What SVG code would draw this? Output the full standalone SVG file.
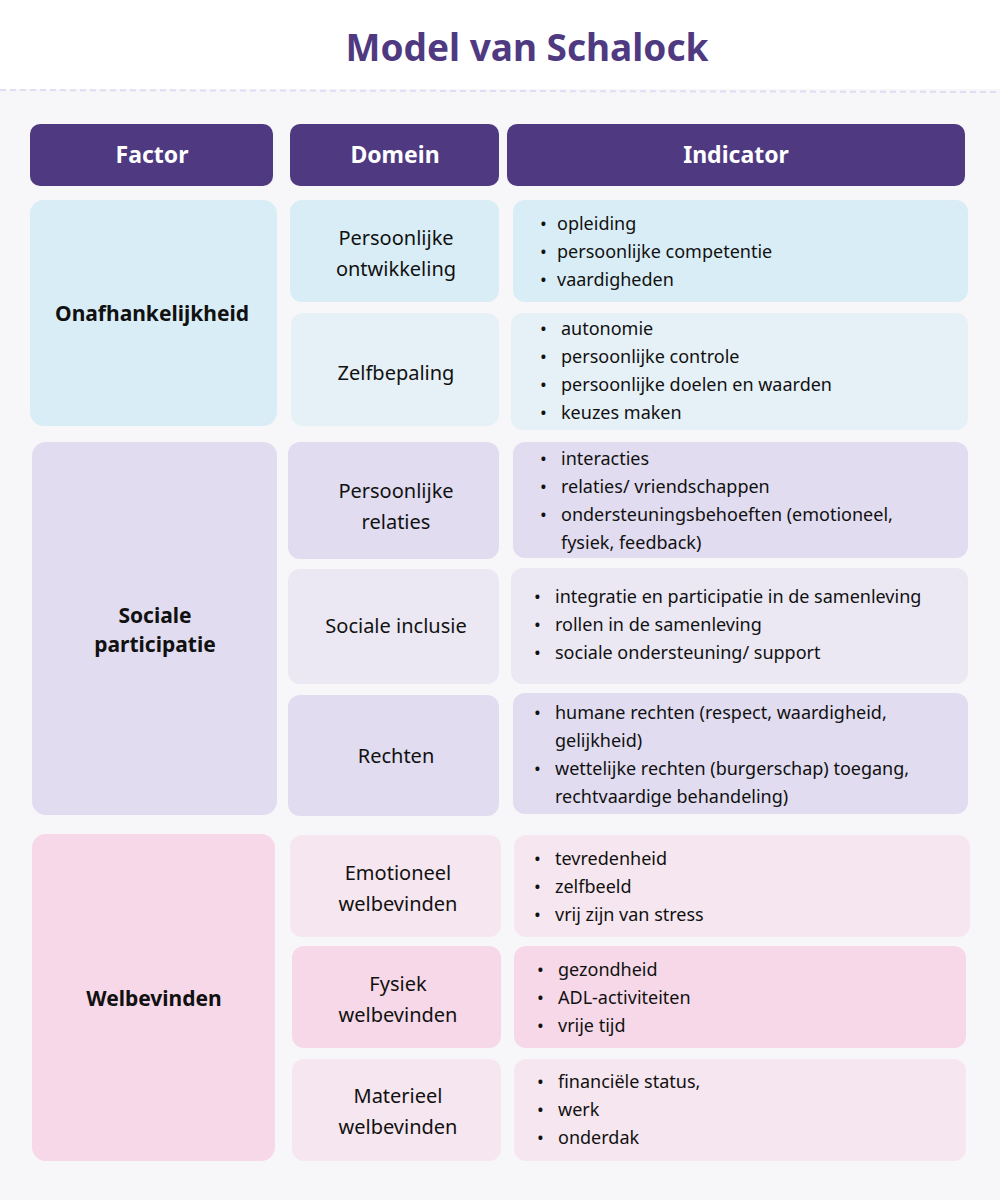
<svg xmlns="http://www.w3.org/2000/svg" width="1000" height="1200" viewBox="0 0 1000 1200">
<style>
text{font-family:"Noto Sans","Open Sans",sans-serif;fill:#111}
.h{fill:#4f3a82}
.ht{fill:#fff;font-size:23px;font-weight:bold;text-anchor:middle}
.f{font-size:21px;font-weight:bold;text-anchor:middle}
.d{font-size:20px;text-anchor:middle}
.i{font-size:18px}
.b1{fill:#d9edf6}.b2{fill:#e6f0f7}
.p1{fill:#e1dcf0}.p2{fill:#ebe8f4}
.k1{fill:#f6d8e8}.k2{fill:#f6e6ef}
</style>
<rect width="1000" height="1200" fill="#f7f6f9"/>
<rect width="1000" height="89" fill="#fff"/>
<line x1="0" y1="90" x2="1000" y2="92" stroke="#e3dcf3" stroke-width="2" stroke-dasharray="6,4"/>
<text x="527" y="61" text-anchor="middle" style="font-size:37px;font-weight:bold;fill:#4f3a82">Model van Schalock</text>
<g id="headers">
<rect class="h" x="30" y="124" width="243" height="62" rx="10"/><text class="ht" x="152" y="163">Factor</text>
<rect class="h" x="290" y="124" width="209" height="62" rx="10"/><text class="ht" x="395" y="163">Domein</text>
<rect class="h" x="507" y="124" width="458" height="62" rx="10"/><text class="ht" x="736" y="163">Indicator</text>
</g>
<g id="f1"><rect class="b1" x="30" y="200" width="247" height="226" rx="14"/><text class="f" x="152" y="321">Onafhankelijkheid</text></g>
<g id="d1"><rect class="b1" x="290" y="200" width="209" height="102" rx="12"/><text class="d" x="396" y="245">Persoonlijke</text><text class="d" x="396" y="276">ontwikkeling</text></g>
<g id="i1"><rect class="b1" x="513" y="200" width="455" height="102" rx="12"/>
<text class="i" x="540" y="230">•</text><text class="i" x="557" y="230">opleiding</text>
<text class="i" x="540" y="258">•</text><text class="i" x="557" y="258">persoonlijke competentie</text>
<text class="i" x="540" y="286">•</text><text class="i" x="557" y="286">vaardigheden</text></g>
<g id="d2"><rect class="b2" x="291" y="313" width="208" height="113" rx="12"/><text class="d" x="396" y="380">Zelfbepaling</text></g>
<g id="i2"><rect class="b2" x="511" y="313" width="457" height="117" rx="12"/>
<text class="i" x="540" y="335">•</text><text class="i" x="561" y="335">autonomie</text>
<text class="i" x="540" y="363">•</text><text class="i" x="561" y="363">persoonlijke controle</text>
<text class="i" x="540" y="391">•</text><text class="i" x="561" y="391">persoonlijke doelen en waarden</text>
<text class="i" x="540" y="419">•</text><text class="i" x="561" y="419">keuzes maken</text></g>
<g id="f2"><rect class="p1" x="32" y="442" width="245" height="373" rx="14"/><text class="f" x="155" y="623">Sociale</text><text class="f" x="155" y="652">participatie</text></g>
<g id="d3"><rect class="p1" x="288" y="442" width="211" height="117" rx="12"/><text class="d" x="396" y="498">Persoonlijke</text><text class="d" x="396" y="529">relaties</text></g>
<g id="i3"><rect class="p1" x="513" y="442" width="455" height="116" rx="12"/>
<text class="i" x="540" y="465">•</text><text class="i" x="561" y="465">interacties</text>
<text class="i" x="540" y="493">•</text><text class="i" x="561" y="493">relaties/ vriendschappen</text>
<text class="i" x="540" y="521">•</text><text class="i" x="561" y="521">ondersteuningsbehoeften (emotioneel,</text>
<text class="i" x="561" y="549">fysiek, feedback)</text></g>
<g id="d4"><rect class="p2" x="288" y="569" width="211" height="115" rx="12"/><text class="d" x="396" y="633">Sociale inclusie</text></g>
<g id="i4"><rect class="p2" x="511" y="568" width="457" height="116" rx="12"/>
<text class="i" x="534" y="603">•</text><text class="i" x="555" y="603">integratie en participatie in de samenleving</text>
<text class="i" x="534" y="631">•</text><text class="i" x="555" y="631">rollen in de samenleving</text>
<text class="i" x="534" y="659">•</text><text class="i" x="555" y="659">sociale ondersteuning/ support</text></g>
<g id="d5"><rect class="p1" x="288" y="695" width="211" height="121" rx="12"/><text class="d" x="396" y="763">Rechten</text></g>
<g id="i5"><rect class="p1" x="513" y="693" width="455" height="121" rx="12"/>
<text class="i" x="534" y="719">•</text><text class="i" x="555" y="719">humane rechten (respect, waardigheid,</text>
<text class="i" x="555" y="747">gelijkheid)</text>
<text class="i" x="534" y="775">•</text><text class="i" x="555" y="775">wettelijke rechten (burgerschap) toegang,</text>
<text class="i" x="555" y="803">rechtvaardige behandeling)</text></g>
<g id="f3"><rect class="k1" x="32" y="834" width="243" height="327" rx="14"/><text class="f" x="154" y="1006">Welbevinden</text></g>
<g id="d6"><rect class="k2" x="290" y="835" width="211" height="102" rx="12"/><text class="d" x="398" y="880">Emotioneel</text><text class="d" x="398" y="911">welbevinden</text></g>
<g id="i6"><rect class="k2" x="514" y="835" width="456" height="102" rx="12"/>
<text class="i" x="534" y="865">•</text><text class="i" x="555" y="865">tevredenheid</text>
<text class="i" x="534" y="893">•</text><text class="i" x="555" y="893">zelfbeeld</text>
<text class="i" x="534" y="921">•</text><text class="i" x="555" y="921">vrij zijn van stress</text></g>
<g id="d7"><rect class="k1" x="292" y="946" width="209" height="102" rx="12"/><text class="d" x="398" y="991">Fysiek</text><text class="d" x="398" y="1022">welbevinden</text></g>
<g id="i7"><rect class="k1" x="514" y="946" width="452" height="102" rx="12"/>
<text class="i" x="537" y="976">•</text><text class="i" x="558" y="976">gezondheid</text>
<text class="i" x="537" y="1004">•</text><text class="i" x="558" y="1004">ADL-activiteiten</text>
<text class="i" x="537" y="1032">•</text><text class="i" x="558" y="1032">vrije tijd</text></g>
<g id="d8"><rect class="k2" x="292" y="1059" width="209" height="102" rx="12"/><text class="d" x="398" y="1103">Materieel</text><text class="d" x="398" y="1134">welbevinden</text></g>
<g id="i8"><rect class="k2" x="514" y="1059" width="452" height="102" rx="12"/>
<text class="i" x="537" y="1088">•</text><text class="i" x="558" y="1088">financiële status,</text>
<text class="i" x="537" y="1116">•</text><text class="i" x="558" y="1116">werk</text>
<text class="i" x="537" y="1144">•</text><text class="i" x="558" y="1144">onderdak</text></g>
<g id="connectors"/>
</svg>
